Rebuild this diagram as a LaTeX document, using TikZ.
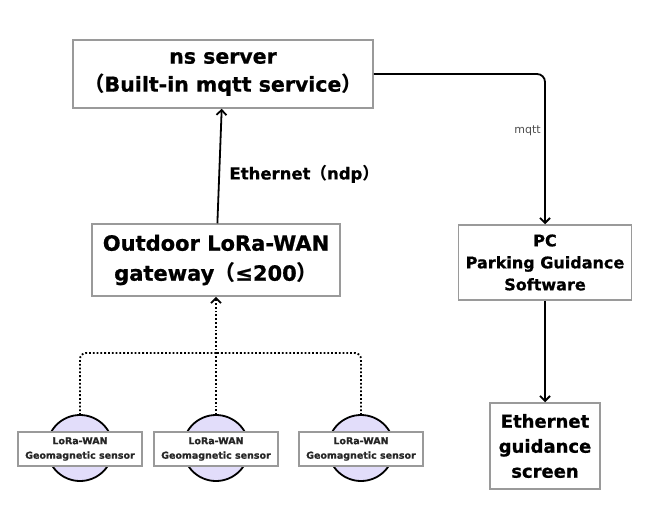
\documentclass[tikz,border=0pt]{standalone}
\usepackage{fontspec}
\setmainfont{DejaVu Sans}[BoldFeatures={FakeBold=0.8}]
\newfontfamily\cjk{Noto Sans CJK SC}
\usetikzlibrary{arrows.meta}
\newcommand{\lp}{{\cjk （}}
\newcommand{\rp}{{\cjk ）}}
\definecolor{boxgray}{HTML}{9A9A9A}
\definecolor{lilac}{HTML}{E2DDFA}
\tikzset{
  unitbox/.style={draw=boxgray, line width=1.5pt, fill=white, align=center, inner sep=0pt, font=\bfseries},
  sensorbox/.style={unitbox, minimum width=124pt, minimum height=34pt,
    font=\bfseries\fontsize{9.5}{14.5}\selectfont, text=black!85},
  link/.style={line width=1.8pt, -{Straight Barb[length=5pt,width=10pt]}},
  radio/.style={line width=1.8pt, dotted, rounded corners=6pt},
}
\begin{document}
\begin{tikzpicture}[x=1pt, y=-1pt]
\useasboundingbox (0,0) rectangle (650,517);
% servers and gateway
\node[unitbox, minimum width=300pt, minimum height=68pt, font=\bfseries\fontsize{20.5}{28}\selectfont]
  (ns) at (223,74) {ns server\\\lp Built-in mqtt service\rp};
\node[unitbox, minimum width=248pt, minimum height=72pt, font=\bfseries\fontsize{21}{30}\selectfont]
  (gw) at (216,260) {Outdoor LoRa-WAN\\gateway\lp ≤200\rp};
\node[unitbox, minimum width=173pt, minimum height=75pt, font=\bfseries\fontsize{16}{22}\selectfont]
  (pc) at (545,262.5) {PC\\Parking Guidance\\Software};
\node[unitbox, minimum width=110pt, minimum height=86pt, font=\bfseries\fontsize{18}{25}\selectfont]
  (scr) at (545,446) {Ethernet\\guidance\\screen};
% sensors
\foreach \i/\x in {1/80, 2/216, 3/361} {
  \filldraw[fill=lilac, line width=1.8pt] (\x,448) circle (33pt);
  \coordinate (c\i) at (\x,415);
  \node[sensorbox] (s\i) at (\x,449) {LoRa-WAN\\Geomagnetic sensor};
}
\coordinate (join) at (216,353);
% connectors
\draw[link] (gw) -- node[pos=0.43, right, xshift=6pt, font=\bfseries\fontsize{16.5}{20}\selectfont] {Ethernet\lp ndp\rp} (ns);
\draw[link, rounded corners=8pt] (ns.east) -| node[pos=0.69, left, text=black!70, font=\fontsize{11}{12}\selectfont] {mqtt} (pc.north);
\draw[link] (pc) -- (scr);
\draw[radio] (c1) |- (join);
\draw[radio] (c3) |- (join);
\draw[radio, -{Straight Barb[length=5pt,width=10pt]}] (c2) -- (gw.south);
\end{tikzpicture}
\end{document}
